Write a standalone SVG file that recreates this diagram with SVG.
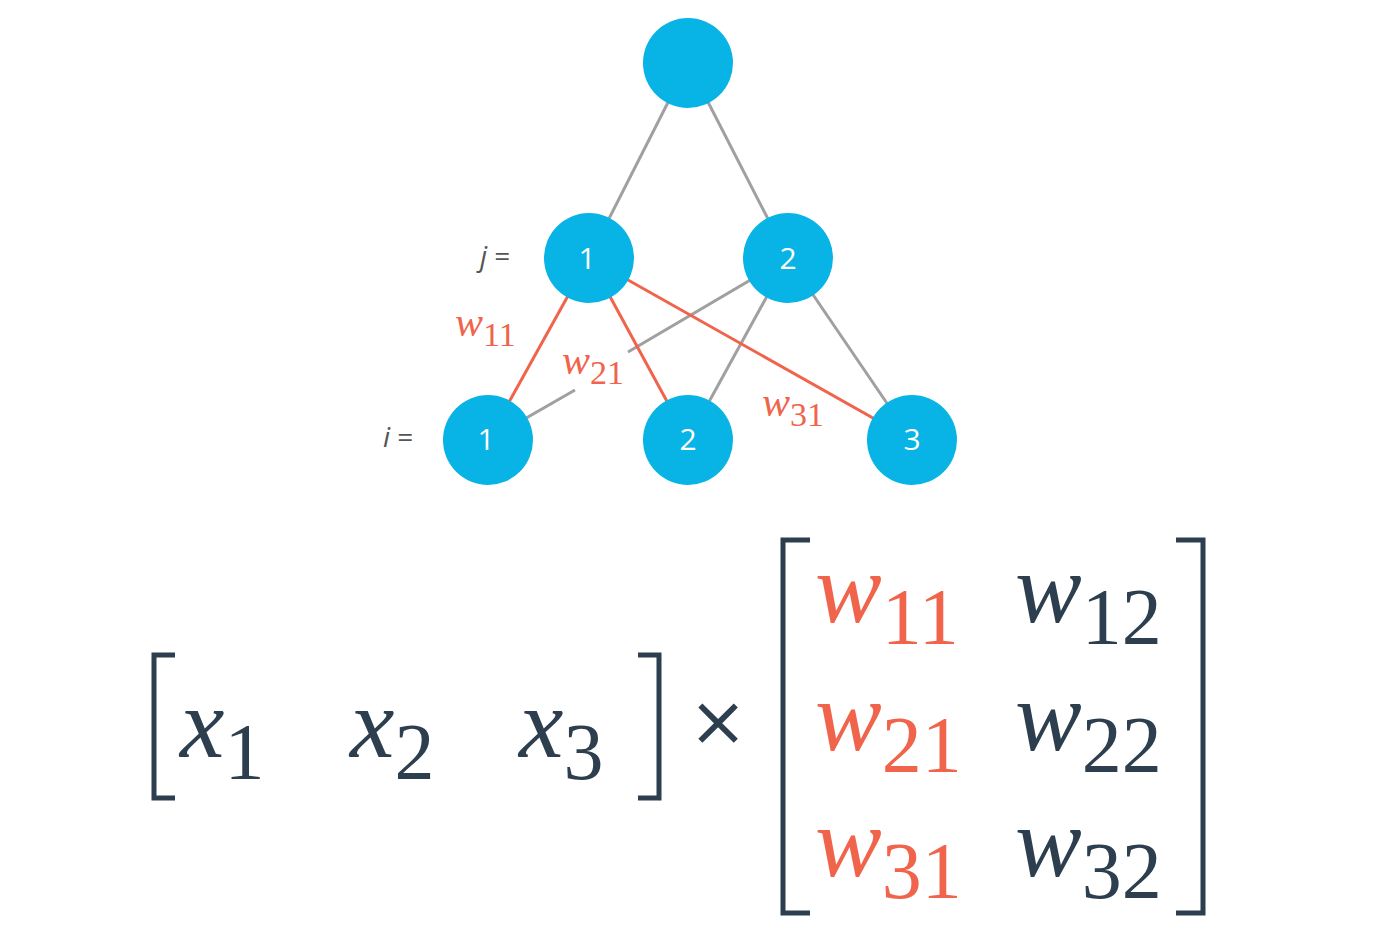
<svg xmlns="http://www.w3.org/2000/svg" width="1388" height="950" viewBox="0 0 1388 950">
<style>
.n{fill:#08b3e5}
.g{stroke:#a0a0a0;stroke-width:3;fill:none}
.r{stroke:#f0644b;stroke-width:3;fill:none}
.nl{font-family:'Open Sans',sans-serif;font-size:30px;fill:#fff;text-anchor:middle}
.lab{font-family:'Open Sans',sans-serif;font-size:28px;fill:#555}
.wl{font-family:'Liberation Serif',serif;font-size:42px;fill:#f0644b}
.m{font-family:'Liberation Serif',serif;font-size:100px;fill:#2d3e4e}
.mr{fill:#f0644b}
.it{font-style:italic}
.br{stroke:#2d3e4e;stroke-width:5;fill:none}
</style>
<g id="connectors">
<line class="g" x1="688" y1="63" x2="589" y2="258"/>
<line class="g" x1="688" y1="63" x2="788" y2="258"/>
<line class="g" x1="788" y1="258" x2="628" y2="352"/>
<line class="g" x1="575" y1="390" x2="488" y2="440"/>
<line class="g" x1="788" y1="258" x2="688" y2="440"/>
<line class="g" x1="788" y1="258" x2="912" y2="440"/>
<line class="r" x1="589" y1="258" x2="488" y2="440"/>
<line class="r" x1="589" y1="258" x2="688" y2="440"/>
<line class="r" x1="589" y1="258" x2="912" y2="440"/>
</g>
<g id="top"><circle class="n" cx="688" cy="63" r="45"/></g>
<g id="j1"><circle class="n" cx="589" cy="258" r="45"/><text class="nl" x="587" y="269">1</text></g>
<g id="j2"><circle class="n" cx="788" cy="258" r="45"/><text class="nl" x="788" y="269">2</text></g>
<g id="i1"><circle class="n" cx="488" cy="440" r="45"/><text class="nl" x="486" y="450">1</text></g>
<g id="i2"><circle class="n" cx="688" cy="440" r="45"/><text class="nl" x="688" y="450">2</text></g>
<g id="i3"><circle class="n" cx="912" cy="440" r="45"/><text class="nl" x="912" y="450">3</text></g>
<g id="labels">
<text class="lab" x="480" y="266"><tspan class="it">j</tspan> =</text>
<text class="lab" x="383" y="447"><tspan class="it">i</tspan> =</text>
<text class="wl" x="455" y="336" font-family="Liberation Serif, serif"><tspan class="it">w</tspan><tspan font-size="34" dy="10">11</tspan></text>
<text class="wl" x="562" y="374" font-family="Liberation Serif, serif"><tspan class="it">w</tspan><tspan font-size="34" dy="10">21</tspan></text>
<text class="wl" x="762" y="416" font-family="Liberation Serif, serif"><tspan class="it">w</tspan><tspan font-size="34" dy="10">31</tspan></text>
</g>
<g id="matrix" font-family="Liberation Serif, serif">
<path class="br" d="M175 655 H154 V798 H175"/>
<path class="br" d="M638 655 H659 V798 H638"/>
<text class="m" x="180" y="757" font-family="Liberation Serif, serif"><tspan class="it">x</tspan><tspan font-size="80" dy="22">1</tspan></text>
<text class="m" x="350" y="757" font-family="Liberation Serif, serif"><tspan class="it">x</tspan><tspan font-size="80" dy="22">2</tspan></text>
<text class="m" x="519" y="757" font-family="Liberation Serif, serif"><tspan class="it">x</tspan><tspan font-size="80" dy="22">3</tspan></text>
<text x="718" y="745" font-family="DejaVu Sans, sans-serif" font-size="70" fill="#2d3e4e" text-anchor="middle">×</text>
<path class="br" d="M810 540 H783 V913 H810"/>
<path class="br" d="M1176 540 H1203 V913 H1176"/>
<text class="m mr" x="815" y="622" font-family="Liberation Serif, serif"><tspan class="it">w</tspan><tspan font-size="80" dy="22">11</tspan></text>
<text class="m" x="1015" y="622" font-family="Liberation Serif, serif"><tspan class="it">w</tspan><tspan font-size="80" dy="22">12</tspan></text>
<text class="m mr" x="815" y="750" font-family="Liberation Serif, serif"><tspan class="it">w</tspan><tspan font-size="80" dy="22">21</tspan></text>
<text class="m" x="1015" y="750" font-family="Liberation Serif, serif"><tspan class="it">w</tspan><tspan font-size="80" dy="22">22</tspan></text>
<text class="m mr" x="815" y="876" font-family="Liberation Serif, serif"><tspan class="it">w</tspan><tspan font-size="80" dy="22">31</tspan></text>
<text class="m" x="1015" y="876" font-family="Liberation Serif, serif"><tspan class="it">w</tspan><tspan font-size="80" dy="22">32</tspan></text>
</g>
</svg>
